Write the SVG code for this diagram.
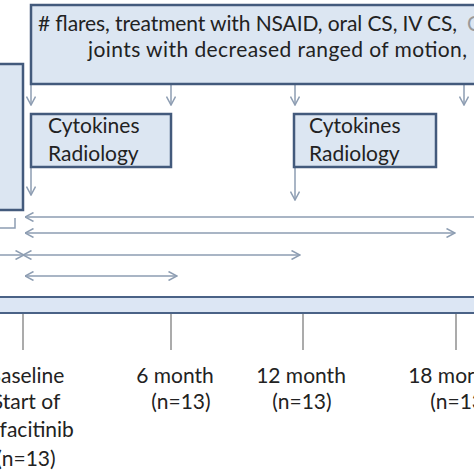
<svg xmlns="http://www.w3.org/2000/svg" width="474" height="474" viewBox="0 0 474 474">
<style>
.box{fill:#dce6f2;stroke:#435a7c;stroke-width:2.5}
.band{fill:#dce6f4;stroke:#4a6286;stroke-width:2}
.t{font-family:Lato,"Open Sans",sans-serif;font-size:21px;fill:#222222}
.c{text-anchor:middle}
.ar{stroke:#8d9db2;stroke-width:1.5;fill:none}
.tick{stroke:#8f8f8f;stroke-width:1.5}
</style>
<defs>
<marker id="ah" viewBox="0 0 10 10" refX="9.5" refY="5" markerWidth="10" markerHeight="10" markerUnits="userSpaceOnUse" orient="auto-start-reverse">
<path d="M1,0.5 L9.5,5 L1,9.5" fill="none" stroke="#8d9db2" stroke-width="1.5"/>
</marker>
</defs>
<rect width="474" height="474" fill="#ffffff"/>
<g id="connectors">
<line class="ar" x1="31" y1="85" x2="31" y2="105" marker-end="url(#ah)"/>
<line class="ar" x1="171" y1="85" x2="171" y2="105" marker-end="url(#ah)"/>
<line class="ar" x1="295" y1="85" x2="295" y2="105" marker-end="url(#ah)"/>
<line class="ar" x1="464" y1="85" x2="464" y2="105" marker-end="url(#ah)"/>
<line class="ar" x1="31" y1="167" x2="31" y2="195" marker-end="url(#ah)"/>
<line class="ar" x1="295" y1="167" x2="295" y2="200" marker-end="url(#ah)"/>
<line class="ar" x1="25" y1="217" x2="476" y2="217" marker-start="url(#ah)"/>
<line class="ar" x1="25" y1="233" x2="455" y2="233" marker-start="url(#ah)" marker-end="url(#ah)"/>
<line class="ar" x1="-2" y1="255" x2="24" y2="255" marker-end="url(#ah)"/>
<line class="ar" x1="23" y1="255" x2="300" y2="255" marker-start="url(#ah)" marker-end="url(#ah)"/>
<line class="ar" x1="25" y1="276" x2="177" y2="276" marker-start="url(#ah)" marker-end="url(#ah)"/>
<polyline class="ar" points="-2,228 15,228 15,218"/>
</g>
<g id="measures">
<rect class="box" x="31" y="5" width="450" height="79"/>
<text class="t" x="38" y="31" textLength="419" lengthAdjust="spacing">#&#160;flares, treatment with NSAID, oral CS, IV CS,</text>
<text class="t" x="467" y="31" style="fill:#9a9a9a">C</text>
<text class="t" x="88" y="57" textLength="379" lengthAdjust="spacing">joints with decreased ranged of motion,</text>
</g>
<g id="left-box">
<rect class="box" x="-5" y="64" width="28" height="146"/>
</g>
<g id="cytokines-1">
<rect class="box" x="31" y="114" width="140" height="53"/>
<text class="t" x="48" y="133">Cytokines</text>
<text class="t" x="48" y="161">Radiology</text>
</g>
<g id="cytokines-2">
<rect class="box" x="294" y="114" width="142" height="53"/>
<text class="t" x="309" y="133">Cytokines</text>
<text class="t" x="309" y="161">Radiology</text>
</g>
<g id="timeline">
<rect class="band" x="-3" y="297" width="480" height="16"/>
<line class="tick" x1="23" y1="314" x2="23" y2="350"/>
<line class="tick" x1="171" y1="314" x2="171" y2="350"/>
<line class="tick" x1="303" y1="314" x2="303" y2="350"/>
<line class="tick" x1="456" y1="314" x2="456" y2="350"/>
</g>
<g id="label-baseline">
<text class="t c" x="26" y="383">Baseline</text>
<text class="t c" x="26" y="409">Start of</text>
<text class="t c" x="26" y="437">Tofacitinib</text>
<text class="t c" x="26" y="466">(n=13)</text>
</g>
<g id="label-6">
<text class="t c" x="175" y="383">6 month</text>
<text class="t c" x="181" y="409">(n=13)</text>
</g>
<g id="label-12">
<text class="t c" x="301" y="383">12 month</text>
<text class="t c" x="302" y="409">(n=13)</text>
</g>
<g id="label-18">
<text class="t c" x="453" y="383">18 month</text>
<text class="t c" x="460" y="409">(n=13)</text>
</g>
</svg>
